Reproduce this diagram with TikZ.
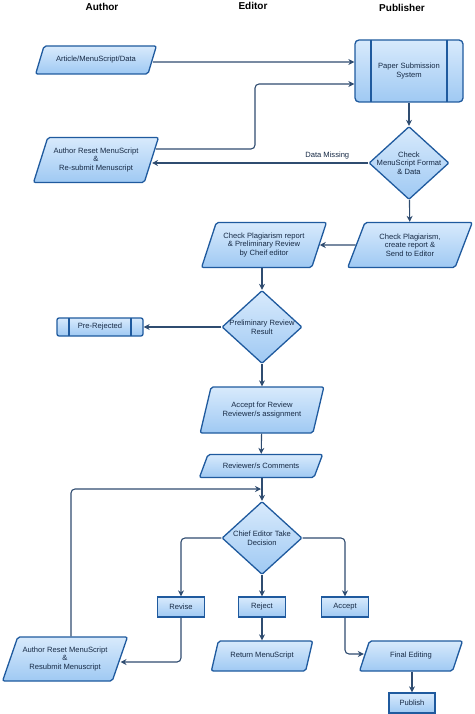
\documentclass[tikz,border=0pt]{standalone}
\usepackage{fontspec}
\setmainfont{Liberation Sans}
\usepackage{xcolor}
\usepackage{tikz}
\usetikzlibrary{shapes.geometric,arrows.meta}

\definecolor{fillTop}{HTML}{D8EAFC}
\definecolor{fillBot}{HTML}{9FC9F3}
\definecolor{lineBlue}{HTML}{1F5A9E}
\definecolor{flowCol}{HTML}{2F4C70}
\definecolor{textCol}{HTML}{172A45}

\tikzset{
  txt/.style={align=center, text=textCol, font=\fontsize{7.6}{8.6}\selectfont},
  box/.style={txt, draw=lineBlue, line width=1.3pt, top color=fillTop, bottom color=fillBot,
    rounded corners=2pt, inner sep=1pt},
  io/.style={box, trapezium, trapezium left angle=#1, trapezium right angle=180-#1,
    trapezium stretches},
  decision/.style={box, diamond, rounded corners=1pt, minimum width=80pt, minimum height=73pt,
    label={[txt]center:#1}},
  proc/.style={box, path picture={
    \draw[lineBlue, line width=1.2pt]
      ([xshift=#1]path picture bounding box.north west) -- ([xshift=#1]path picture bounding box.south west)
      ([xshift=-#1]path picture bounding box.north east) -- ([xshift=-#1]path picture bounding box.south east);}},
  flow/.style={draw=flowCol, line width=1.1pt, rounded corners=4pt, -{Stealth[length=6pt,width=6pt]}},
  lane/.style={font=\fontsize{10}{12}\selectfont\bfseries}
}

\begin{document}
\begin{tikzpicture}[x=1pt, y=-1pt]
    \useasboundingbox (0,0) rectangle (474,714);

    % Lane titles
    \node[lane] (hauth) at (102,7) {Author};
    \node[lane] (hedit) at (253,6) {Editor};
    \node[lane] (hpub) at (402,8) {Publisher};

    % Submission
    \node[io=54, minimum width=121pt, minimum height=28pt] (art) at (96,60) {Article/MenuScript/Data};
    \node[proc=16pt, rounded corners=4pt, minimum width=108pt, minimum height=62pt] (pss) at (409,71) {Paper Submission\\System};
    \node[decision={Check\\MenuScript Format\\\& Data}] (chk) at (409,163) {};
    \node[io=64, minimum width=125pt, minimum height=45pt] (ar1) at (96,160) {Author Reset MenuScript\\\&\\Re-submit Menuscript};

    % Plagiarism and preliminary review
    \node[io=64, minimum width=125pt, minimum height=45pt] (cpc) at (410,245) {Check Plagiarism,\\create report \&\\Send to Editor};
    \node[io=64, minimum width=125pt, minimum height=45pt] (cpr) at (264,245) {Check Plagiarism report\\\& Preliminary Review\\by Cheif editor};
    \node[decision={Preliminary Review\\Result}] (prr) at (262,327) {};
    \node[proc=12pt, minimum width=86pt, minimum height=18pt] (prj) at (100,327) {Pre-Rejected};

    % Review
    \node[io=64, minimum width=124pt, minimum height=46pt] (afr) at (262,410) {Accept for Review\\Reviewer/s assignment};
    \node[io=50, minimum width=124pt, minimum height=23pt] (rvc) at (261,466) {Reviewer/s Comments};
    \coordinate (merge) at (262,489);

    % Decision
    \node[decision={Chief Editor Take\\Decision}] (ced) at (262,538) {};
    \node[box, rounded corners=0pt, minimum width=47pt, minimum height=20pt] (rev) at (181,607) {Revise};
    \node[box, rounded corners=0pt, minimum width=47pt, minimum height=20pt] (rej) at (262,607) {Reject};
    \node[box, rounded corners=0pt, minimum width=47pt, minimum height=20pt] (acc) at (345,607) {Accept};
    \node[io=62, minimum width=125pt, minimum height=44pt] (ar2) at (65,659) {Author Reset MenuScript\\\&\\Resubmit Menuscript};
    \node[io=60, minimum width=102pt, minimum height=30pt] (ret) at (262,656) {Return MenuScript};
    \node[io=60, minimum width=103pt, minimum height=30pt] (fin) at (411,656) {Final Editing};
    \node[box, rounded corners=0pt, minimum width=46pt, minimum height=20pt] (pub) at (412,703) {Publish};

    % Connectors
    \draw[flow] ([yshift=-2pt]art.east) -- ([yshift=9pt]pss.west);
    \draw[flow] ([xshift=4pt,yshift=11pt]ar1.east) -| (255,84) -- ([yshift=-13pt]pss.west);
    \draw[flow] (pss) -- (chk);
    \draw[flow] (chk.west) -- node[txt, pos=0.19, above] {Data Missing} (chk.west -| ar1.east);
    \draw[flow] (chk) -- (cpc);
    \draw[flow] (cpc) -- (cpr);
    \draw[flow] (cpr.south -| prr) -- (prr);
    \draw[flow] (prr) -- (prj);
    \draw[flow] (prr) -- (afr);
    \draw[flow] (afr) -- (rvc);
    \draw[flow] (rvc.south -| ced) -- (ced);
    \draw[flow] ([xshift=6pt]ar2.north) |- ([xshift=-1pt]merge);
    \draw[flow] (ced.west) -| (rev.north);
    \draw[flow] (ced) -- (rej);
    \draw[flow] (ced.east) -| (acc.north);
    \draw[flow] (rev.south) |- ([yshift=-3pt]ar2.east);
    \draw[flow] (rej) -- (ret);
    \draw[flow] (acc.south) |- ([yshift=2pt]fin.west);
    \draw[flow] (fin.south -| pub) -- (pub);
\end{tikzpicture}
\end{document}
